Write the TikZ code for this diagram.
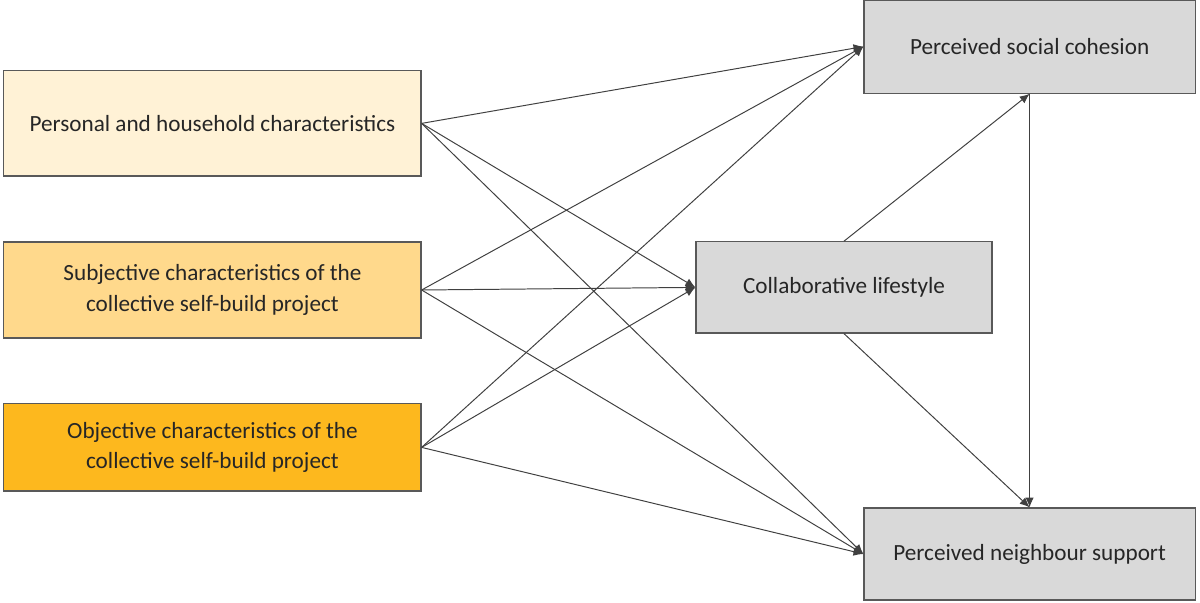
\documentclass[tikz,border=0pt]{standalone}
\usepackage{fontspec}
\setmainfont{Carlito}
\usepackage{xcolor}
\definecolor{boxline}{RGB}{89,89,89}
\definecolor{txtgray}{RGB}{38,38,38}
\definecolor{arrgray}{RGB}{64,64,64}
\definecolor{cream}{RGB}{255,242,214}
\definecolor{lightgold}{RGB}{255,217,140}
\definecolor{gold}{RGB}{253,184,30}
\definecolor{boxgray}{RGB}{217,217,217}
\usepackage{tikz}
\usetikzlibrary{arrows.meta, positioning}

\tikzset{
  varbox/.style={draw=boxline, line width=0.9pt, text=txtgray, align=center,
    font=\fontsize{16.5}{21.5}\selectfont, inner sep=0pt},
  outbox/.style={varbox, fill=boxgray},
  linkarrow/.style={draw=arrgray, line width=0.7pt, -{Latex[length=7pt, width=6pt]}}
}

\begin{document}
\begin{tikzpicture}
  \useasboundingbox (0,0) rectangle (30,15.075);

  % Predictors
  \node[varbox, fill=cream, minimum width=10.43cm, minimum height=2.63cm] (pers) at (5.31,11.99) {Personal and household characteristics};
  \node[varbox, fill=lightgold, minimum width=10.43cm, minimum height=2.4cm] (subj) at (5.31,7.825) {Subjective characteristics of the\\collective self-build project};
  \node[varbox, fill=gold, minimum width=10.43cm, minimum height=2.18cm] (obj) at (5.31,3.89) {Objective characteristics of the\\collective self-build project};

  % Mediator and outcomes
  \node[outbox, minimum width=7.4cm, minimum height=2.28cm] (life) at (21.1,7.89) {Collaborative lifestyle};
  \node[outbox, minimum width=8.28cm, minimum height=2.33cm] (cohesion) at (25.74,13.91) {Perceived social cohesion};
  \node[outbox, minimum width=8.28cm, minimum height=2.3cm] (support) at (25.74,1.225) {Perceived neighbour support};

  % Paths from predictors
  \draw[linkarrow] (pers.east) -- (cohesion.west);
  \draw[linkarrow] (pers.east) -- (life.west);
  \draw[linkarrow] (pers.east) -- (support.west);
  \draw[linkarrow] (subj.east) -- (cohesion.west);
  \draw[linkarrow] (subj.east) -- (life.west);
  \draw[linkarrow] (subj.east) -- (support.west);
  \draw[linkarrow] (obj.east) -- (cohesion.west);
  \draw[linkarrow] (obj.east) -- (life.west);
  \draw[linkarrow] (obj.east) -- (support.west);

  % Paths from mediator
  \draw[linkarrow] (life.north) -- (cohesion.south);
  \draw[linkarrow] (life.south) -- (support.north);
  \draw[linkarrow] (cohesion.south) -- (support.north);
\end{tikzpicture}
\end{document}
